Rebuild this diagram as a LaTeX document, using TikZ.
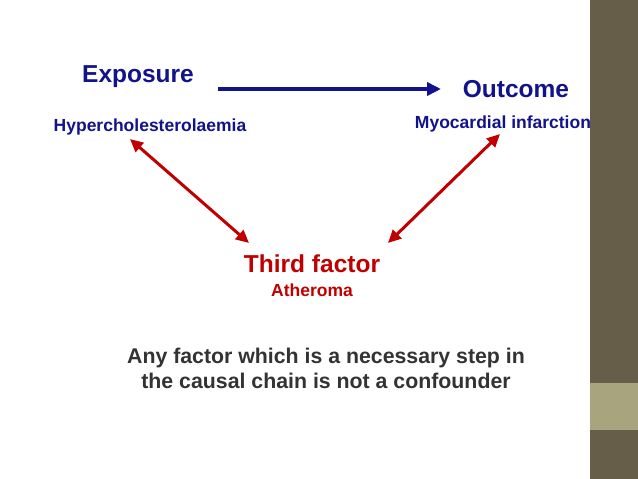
\documentclass[tikz,border=0pt]{standalone}
\usepackage{fontspec}
\setmainfont{Liberation Sans}
\usetikzlibrary{arrows.meta}
\definecolor{navy}{HTML}{12128A}
\definecolor{dred}{HTML}{C00000}
\definecolor{olive}{HTML}{665E48}
\definecolor{khaki}{HTML}{A8A47E}
\definecolor{txt}{HTML}{333333}
\tikzset{
 big/.style={font=\fontsize{24.5}{28}\selectfont\bfseries},
 small/.style={font=\fontsize{17.5}{20}\selectfont\bfseries},
 redarrow/.style={draw=dred,line width=3pt,{Triangle[length=13pt,width=12pt]}-{Triangle[length=13pt,width=12pt]}},
}
\begin{document}
\begin{tikzpicture}[x=1pt,y=-1pt]
\useasboundingbox (0,0) rectangle (638,479);
\fill[white] (0,0) rectangle (638,479);
\fill[olive] (590,0) rectangle (638,479);
\fill[khaki] (590,383) rectangle (638,430);
\node[big,text=navy] (exp) at (138,77) {Exposure};
\node[big,text=navy] (out) at (516,89) {Outcome};
\node[small,text=navy] (hyp) at (150,127) {Hypercholesterolaemia};
\node[small,text=navy] (myo) at (503,124) {Myocardial infarction};
\node[big,text=dred] (tf) at (312,264) {Third factor};
\node[small,text=dred] (ath) at (312,290) {Atheroma};
\node[font=\fontsize{21.3}{25}\selectfont\bfseries,text=txt,align=center] (note) at (326,368) {Any factor which is a necessary step in\\the causal chain is not a confounder};
\coordinate (a1) at (218,89); \coordinate (a2) at (441,89);
\draw[navy,line width=4pt,-{Triangle[length=14pt,width=13pt]}] (a1) -- (a2);
\coordinate (h) at (130,139); \coordinate (t1) at (249,243);
\coordinate (m) at (500,134); \coordinate (t2) at (388,243);
\draw[redarrow] (h) -- (t1);
\draw[redarrow] (m) -- (t2);
\end{tikzpicture}
\end{document}
